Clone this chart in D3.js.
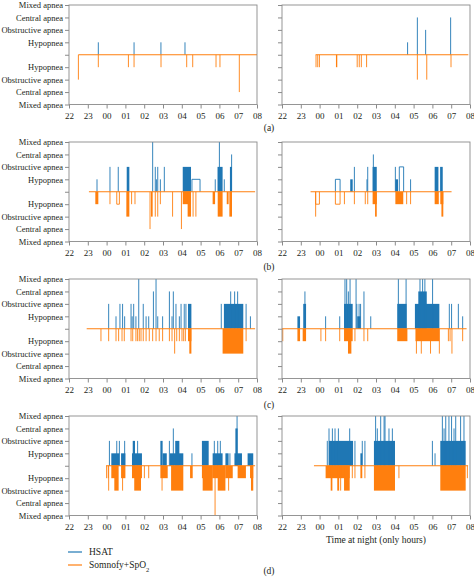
<!DOCTYPE html>
<html>
<head>
<meta charset="utf-8">
<script src="https://cdn.jsdelivr.net/npm/d3@7"></script>
<style>
    body { margin: 0; background: #fff; }
    text { font-family: "Liberation Serif", "DejaVu Serif", serif; fill: #231f20; }
</style>
</head>
<body>
<svg id="chart" width="474" height="577"></svg>
<script>
// Tick labels
const hourLabels = ["22", "23", "00", "01", "02", "03", "04", "05", "06", "07", "08"];
// from level +4 down to -4
const levelLabels = ["Mixed apnea", "Central apnea", "Obstructive apnea", "Hypopnea", "",
    "Hypopnea", "Obstructive apnea", "Central apnea", "Mixed apnea"];
const panelTags = ["(a)", "(b)", "(c)", "(d)"];

// Events, time in hours after 22:00.
// [t, level] = single event, [t0, t1, level] = dense run, [t0, t1, level, "open"] = one long event
// levels: 1 Hypopnea, 2 Obstructive, 3 Central, 4 Mixed

// (a)
const baseA1 = [0.5, 10];
const hsatA1 = [[1.56, 1], [3.46, 1], [4.89, 1], [6.17, 1]];
const somA1 = [[0.5, 2], [1.56, 1], [3.16, 1], [3.46, 1], [4.87, 4.91, 1], [6.26, 1], [6.58, 1],
    [7.82, 1], [8.03, 1], [9.06, 3]];
const baseA2 = [1.79, 9.91];
const hsatA2 = [[6.68, 1], [7.2, 3], [7.64, 2], [8.97, 3]];
const somA2 = [[1.81, 1], [1.9, 1], [1.99, 1], [2.87, 2.94, 1], [4.0, 1], [4.11, 1], [4.22, 1],
    [4.5, 1], [7.2, 2], [7.7, 2], [8.99, 1]];

// (b)
const baseB1 = [1.06, 9.9];
const hsatB1 = [[1.49, 1], [2.18, 2], [2.62, 2], [3.07, 3.21, 2], [4.45, 4], [4.59, 2], [4.65, 1],
    [4.72, 2], [4.86, 1], [5.07, 2], [6.05, 6.49, 2], [6.54, 6.97, 1, "open"], [7.78, 1],
    [7.9, 8.17, 2], [8.0, 4], [8.26, 1], [8.56, 8.67, 2], [8.65, 3]];
const somB1 = [[1.4, 1.56, 1], [2.18, 1], [2.54, 2.68, 1, "open"], [3.05, 3.21, 2], [3.33, 1],
    [3.51, 1], [4.31, 3], [4.36, 4.45, 2], [4.59, 2], [4.72, 2], [4.86, 1], [5.51, 2], [5.98, 3],
    [6.05, 6.49, 1], [6.31, 6.49, 2], [6.6, 2], [6.75, 2], [7.64, 7.77, 1], [7.91, 8.17, 2],
    [8.39, 8.49, 1], [8.53, 8.67, 2]];
const baseB2 = [1.52, 9.02];
const hsatB2 = [[2.84, 3.09, 1, "open"], [3.63, 3.76, 1], [3.85, 2], [4.52, 1], [4.56, 2],
    [4.82, 5.04, 2], [4.86, 3], [6.03, 2], [6.03, 6.17, 1], [6.24, 6.47, 2, "open"], [6.84, 1],
    [8.12, 8.32, 2], [8.41, 8.55, 2]];
const somB2 = [[1.79, 2], [1.79, 1.99, 1, "open"], [2.84, 3.09, 1, "open"], [3.32, 1], [3.85, 1],
    [4.43, 1], [4.56, 1], [4.82, 5.04, 1], [4.95, 5.04, 2], [6.03, 6.45, 1], [6.63, 1], [6.84, 1],
    [8.12, 8.34, 1], [8.42, 8.58, 1], [8.48, 8.58, 2]];

// (c)
const baseC1 = [0.94, 9.9];
const hsatC1 = [[2.11, 2], [2.5, 1], [2.71, 2], [2.85, 2], [2.96, 1], [3.3, 2], [3.36, 1], [3.44, 2],
    [3.56, 1], [3.71, 4], [3.95, 2], [4.1, 1], [4.24, 1], [4.49, 3], [4.63, 4], [4.72, 1], [4.98, 1],
    [5.34, 3], [5.48, 1], [5.55, 3], [5.69, 2], [5.87, 1], [5.96, 2], [6.13, 2], [6.22, 2],
    [6.33, 6.51, 2], [8.1, 2], [8.24, 9.27, 2], [8.6, 3], [8.81, 3], [8.97, 3], [9.42, 2], [9.65, 1]];
const somC1 = [[1.7, 1], [2.11, 1], [2.5, 1], [2.64, 1], [2.82, 1], [2.94, 1], [3.3, 1], [3.39, 1],
    [3.56, 1], [3.65, 1], [3.74, 1], [3.83, 1], [3.95, 1], [4.1, 1], [4.27, 1], [4.45, 1], [4.63, 1],
    [4.8, 1], [4.98, 1], [5.34, 1], [5.48, 1], [5.62, 2], [5.73, 1], [5.87, 1], [6.01, 1], [6.1, 1],
    [6.19, 1], [6.33, 6.51, 1], [6.4, 6.51, 2], [8.17, 9.27, 2], [9.42, 1]];
const baseC2 = [0, 9.82];
const hsatC2 = [[0.82, 0.96, 1], [1.13, 1.28, 2], [1.22, 3], [2.32, 1], [3.07, 1], [3.3, 3.76, 2],
    [3.35, 4], [3.44, 4], [3.53, 3], [3.62, 4], [3.94, 4], [3.98, 2], [4.0, 4.18, 1], [4.1, 2],
    [4.18, 2], [4.36, 3], [4.72, 1], [6.13, 6.63, 2], [6.19, 4], [6.6, 4], [7.07, 8.37, 2],
    [7.25, 7.7, 3], [7.34, 4], [7.48, 4], [7.6, 4], [8.01, 4], [8.9, 2], [9.02, 2], [9.38, 2], [9.61, 1]];
const somC2 = [[0.04, 1], [0.82, 0.96, 1], [1.1, 1.28, 1], [2.07, 1], [2.32, 1], [3.07, 1],
    [3.3, 3.76, 1], [3.51, 3.69, 2], [3.88, 1], [4.36, 1], [4.56, 1], [6.13, 6.67, 1], [7.1, 8.37, 1],
    [7.15, 2], [7.41, 2], [7.9, 2], [8.37, 2], [8.85, 1], [8.94, 1], [9.04, 2], [9.61, 1]];

// (d)
const baseD1 = [1.97, 9.9];
const hsatD1 = [[2.15, 2], [2.25, 2.68, 1], [2.54, 2], [2.68, 2], [2.77, 3.0, 1], [2.96, 2],
    [3.35, 3.88, 1], [3.39, 3.51, 2], [3.65, 2], [4.86, 4.98, 2], [4.98, 5.2, 1], [5.34, 2], [5.55, 3],
    [5.37, 6.08, 1], [5.65, 5.87, 2], [6.54, 1], [7.07, 7.43, 2], [7.64, 8.17, 1], [7.73, 2], [7.91, 2],
    [8.05, 2], [8.32, 8.49, 1], [8.56, 1], [8.8, 9.2, 1], [8.85, 8.97, 3], [8.94, 4], [9.5, 9.8, 1]];
const somD1 = [[2.0, 1], [2.09, 1], [2.11, 2], [2.25, 2.59, 1], [2.41, 2.64, 2], [2.77, 3.0, 1],
    [2.85, 2], [3.35, 3.88, 1], [3.47, 3.83, 2], [4.01, 1], [4.24, 1], [4.86, 5.25, 1], [4.95, 2],
    [5.43, 6.08, 2], [6.44, 6.58, 1], [7.07, 7.64, 1], [7.11, 7.64, 2], [7.77, 4], [7.64, 8.32, 1],
    [7.91, 8.32, 2], [8.32, 8.71, 1], [8.49, 2], [8.97, 9.41, 1], [9.63, 9.8, 1], [9.68, 9.8, 2]];
const baseD2 = [1.7, 9.9];
const hsatD2 = [[2.41, 2], [2.5, 3], [2.5, 3.78, 2], [2.68, 3], [2.82, 3], [3.0, 3], [3.6, 3],
    [3.88, 2], [4.17, 4.27, 1], [4.27, 2], [4.41, 2], [4.89, 6.01, 2], [4.98, 4], [5.07, 3], [5.25, 4],
    [5.43, 4], [5.48, 4], [5.69, 3], [5.87, 3], [8.0, 2], [8.14, 1], [8.42, 9.77, 2], [8.53, 4],
    [8.62, 3], [8.71, 4], [8.88, 4], [9.02, 4], [9.15, 3], [9.24, 4], [9.5, 4], [9.68, 4]];
const somD2 = [[2.32, 2.5, 1], [2.5, 3.6, 1], [2.59, 2.68, 2], [2.94, 3.04, 2], [3.12, 2],
    [3.3, 3.6, 2], [3.74, 1], [3.88, 1], [4.17, 4.27, 1], [4.41, 1], [4.89, 6.01, 2], [6.22, 1],
    [8.42, 9.77, 2], [9.86, 1]];

const panels = [
    [{ base: baseA1, hsat: hsatA1, som: somA1 }, { base: baseA2, hsat: hsatA2, som: somA2 }],
    [{ base: baseB1, hsat: hsatB1, som: somB1 }, { base: baseB2, hsat: hsatB2, som: somB2 }],
    [{ base: baseC1, hsat: hsatC1, som: somC1 }, { base: baseC2, hsat: hsatC2, som: somC2 }],
    [{ base: baseD1, hsat: hsatD1, som: somD1 }, { base: baseD2, hsat: hsatD2, som: somD2 }]
];

const BLUE = "#1f77b4";
const ORANGE = "#ff7f0e";
const FRAME = "#8a8a8a";

const svg = d3.select("#chart");
const plotW = 188, plotH = 99.5;
const colX = [69, 282];
const rowY = [5, 142, 279, 416];

function drawEvents(g, x, y, events, sign, color) {
    events.forEach(ev => {
        if (ev.length === 2) {
            g.append("line")
                .attr("x1", x(ev[0])).attr("x2", x(ev[0]))
                .attr("y1", y(0)).attr("y2", y(sign * ev[1]))
                .attr("stroke", color).attr("stroke-width", 0.9);
        } else if (ev.length === 3) {
            g.append("rect")
                .attr("x", x(ev[0]))
                .attr("width", Math.max(0.9, x(ev[1]) - x(ev[0])))
                .attr("y", Math.min(y(0), y(sign * ev[2])))
                .attr("height", Math.abs(y(0) - y(sign * ev[2])))
                .attr("fill", color);
        } else {
            g.append("path")
                .attr("d", `M${x(ev[0])},${y(0)}V${y(sign * ev[2])}H${x(ev[1])}V${y(0)}`)
                .attr("fill", "none").attr("stroke", color).attr("stroke-width", 0.9);
        }
    });
}

let clipId = 0;
function drawPlot(x0, y0, d, showLabels) {
    const x = d3.scaleLinear().domain([0, 10]).range([x0, x0 + plotW]);
    const y = d3.scaleLinear().domain([-4, 4]).range([y0 + plotH, y0]);
    const g = svg.append("g");

    const id = "clip" + (clipId++);
    g.append("clipPath").attr("id", id).append("rect")
        .attr("x", x0).attr("y", y0).attr("width", plotW).attr("height", plotH);

    const marks = g.append("g").attr("clip-path", `url(#${id})`);
    drawEvents(marks, x, y, d.hsat, 1, BLUE);
    drawEvents(marks, x, y, d.som, -1, ORANGE);
    marks.append("line")
        .attr("x1", x(d.base[0])).attr("x2", x(d.base[1]))
        .attr("y1", y(0)).attr("y2", y(0))
        .attr("stroke", ORANGE).attr("stroke-width", 1);

    g.append("rect")
        .attr("x", x0).attr("y", y0).attr("width", plotW).attr("height", plotH)
        .attr("fill", "none").attr("stroke", FRAME).attr("stroke-width", 0.9);

    const yAxis = g.append("g").attr("transform", `translate(${x0},0)`)
        .call(d3.axisLeft(y).tickValues(d3.range(-4, 5)).tickSize(4).tickPadding(2)
            .tickFormat(v => showLabels ? levelLabels[4 - v] : ""));
    const xAxis = g.append("g").attr("transform", `translate(0,${y0 + plotH})`)
        .call(d3.axisBottom(x).tickValues(d3.range(0, 11)).tickSize(4).tickPadding(4)
            .tickFormat(i => hourLabels[i]));
    [yAxis, xAxis].forEach(a => {
        a.select(".domain").remove();
        a.selectAll("line").attr("stroke", FRAME);
        a.selectAll("text").attr("fill", "#231f20")
            .style("font-family", '"Liberation Serif", serif');
    });
    yAxis.selectAll("text").style("font-size", "8.5px");
    xAxis.selectAll("text").style("font-size", "9px");
}

panels.forEach((row, r) => {
    drawPlot(colX[0], rowY[r], row[0], true);
    drawPlot(colX[1], rowY[r], row[1], false);
});

// panel tags
const tagY = [128, 267, 405, 571];
panelTags.forEach((t, i) => {
    svg.append("text").attr("x", 269).attr("y", tagY[i]).attr("dy", "0.35em")
        .attr("text-anchor", "middle").style("font-size", "9.5px").text(t);
});

// axis title
svg.append("text").attr("x", colX[1] + plotW / 2).attr("y", 540).attr("dy", "0.35em")
    .attr("text-anchor", "middle").style("font-size", "9.5px").text("Time at night (only hours)");

// legend
const legend = svg.append("g");
[["HSAT", BLUE, 552], ["Somnofy+SpO", ORANGE, 565]].forEach(([name, c, ly], i) => {
    legend.append("line").attr("x1", 68).attr("x2", 82).attr("y1", ly).attr("y2", ly)
        .attr("stroke", c).attr("stroke-width", 1.2);
    const t = legend.append("text").attr("x", 89).attr("y", ly).attr("dy", "0.35em")
        .style("font-size", "9.5px").text(name);
    if (i === 1) {
        t.append("tspan").attr("baseline-shift", "sub").style("font-size", "6.5px").text("2");
    }
});
</script>
</body>
</html>
